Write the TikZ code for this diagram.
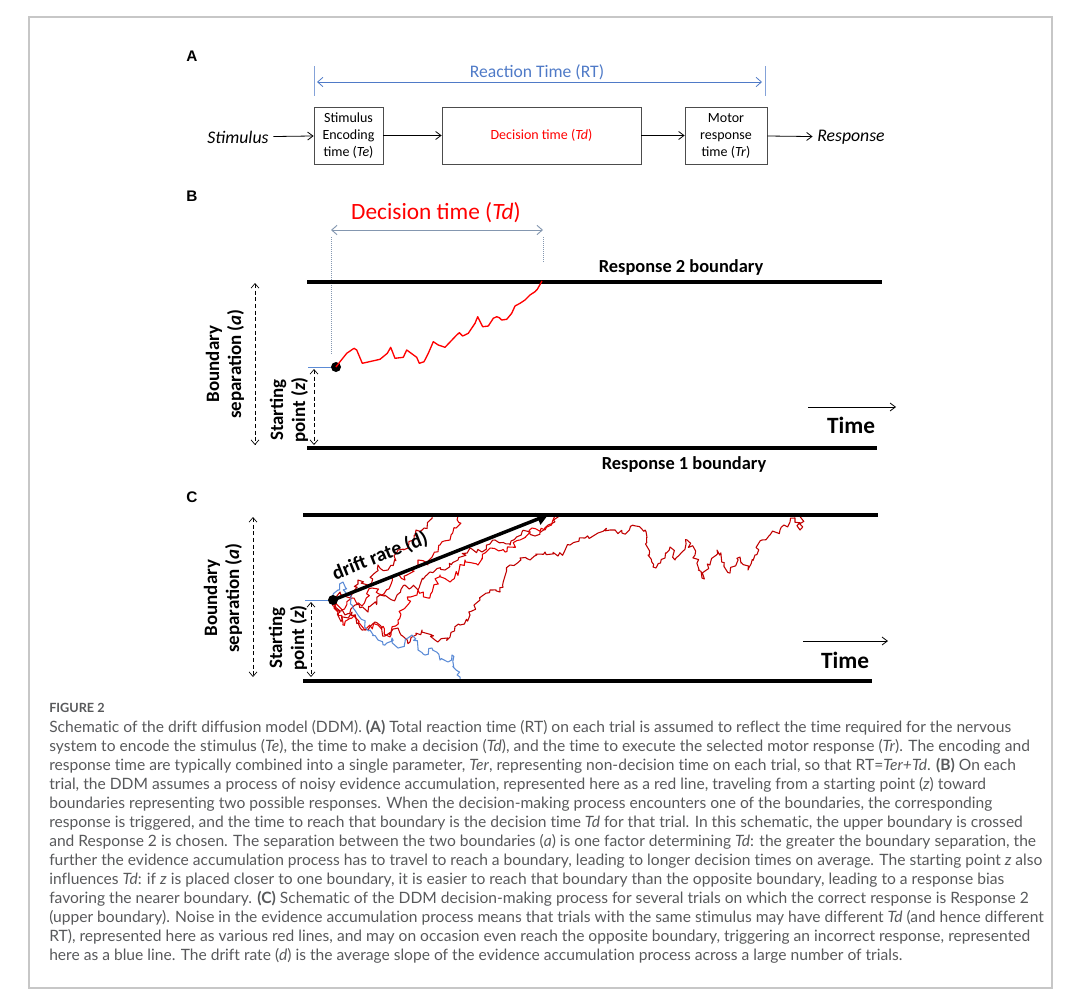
\documentclass[tikz,border=0pt]{standalone}
\usepackage{fontspec}
\setmainfont{Lato}[Ligatures=CommonOff]
\newfontfamily\calib{Carlito}
\newfontfamily\arialf{Liberation Sans}
\usetikzlibrary{arrows.meta,decorations.pathmorphing,positioning}
\definecolor{rtblue}{HTML}{4F7AC7}
\definecolor{tdgray}{HTML}{8497B0}
\definecolor{startblue}{HTML}{5B8BD6}
\definecolor{capgray}{HTML}{58595B}
\definecolor{walkred}{HTML}{C00000}
\tikzset{
  stagebox/.style={draw=black!70, line width=0.6pt, minimum height=42.75pt, align=center, inner sep=1pt,
    font=\calib\fontsize{10.5}{12.75}\selectfont},
  flow/.style={-{Straight Barb[length=4pt,width=6pt]}, line width=0.6pt},
  boundary/.style={line width=3pt},
  span/.style={{Straight Barb[length=3.5pt,width=6pt]}-{Straight Barb[length=3.5pt,width=6pt]},
    line width=0.5pt, densely dashed},
  sidelabel/.style={rotate=90, align=center, font=\calib\bfseries\fontsize{14.2}{16.5}\selectfont},
  bigbold/.style={font=\calib\bfseries\fontsize{13.8}{15}\selectfont},
  timelabel/.style={font=\calib\bfseries\fontsize{17.5}{19}\selectfont},
  panel/.style={font=\arialf\bfseries\fontsize{11.5}{12}\selectfont},
  startdot/.style={circle, fill, inner sep=0pt, minimum size=7.5pt},
  walk/.style={line width=0.8pt, line join=round, decorate,
    decoration={random steps, segment length=2.5pt, amplitude=2.2pt}},
}

\begin{document}
\begin{tikzpicture}[x=0.75pt,y=-0.75pt]
\useasboundingbox (0,0) rectangle (1080,1000);
\draw[black!22, line width=0.8pt] (29,17) rectangle (1052,988);

% panel A
\node[panel] (labA) at (192,56) {A};
\draw[rtblue!70, line width=0.5pt] (314,66) -- (314,96);
\draw[rtblue!70, line width=0.5pt] (765,66) -- (765,96);
\coordinate (rtL) at (317,82);
\coordinate (rtR) at (762,82);
\draw[rtblue, line width=0.6pt, {Straight Barb[length=4pt,width=7pt]}-{Straight Barb[length=4pt,width=7pt]}] (rtL) -- (rtR);
\node[text=rtblue, font=\calib\fontsize{13.2}{15}\selectfont] (rtlab) at (537,72) {Reaction Time (RT)};

\node[stagebox, minimum width=51.75pt] (enc) at (348.5,135.5) {Stimulus\\Encoding\\time (\textit{Te})};
\node[stagebox, minimum width=149.25pt, text=red] (dec) at (541.5,135.5) {Decision time (\textit{Td})};
\node[stagebox, minimum width=61.5pt] (mot) at (726,135.5) {Motor\\response\\time (\textit{Tr})};
\node[font=\calib\itshape\fontsize{13.3}{15}\selectfont] (stim) at (238,137) {Stimulus};
\node[font=\calib\itshape\fontsize{13.3}{15}\selectfont] (resp) at (851,137) {Response};
\draw[flow] (stim) -- (enc);
\draw[flow] (enc) -- (dec);
\draw[flow] (dec) -- (mot);
\draw[flow] (mot) -- (resp);

% panel B
\node[panel] (labB) at (192,196) {B};
\node[text=red, font=\calib\fontsize{17.5}{19}\selectfont] (tdlab) at (436,213) {Decision time (\textit{Td})};
\coordinate (tdL) at (331,230);
\coordinate (tdR) at (543,230);
\draw[tdgray, line width=0.7pt, {Straight Barb[length=4pt,width=7pt]}-{Straight Barb[length=4pt,width=7pt]}] (tdL) -- (tdR);
\draw[tdgray, densely dotted, line width=0.5pt] (331,237) -- (331,355);
\draw[tdgray, densely dotted, line width=0.5pt] (543,237) -- (543,262);
\draw[boundary] (307,282) -- (882,282);
\draw[boundary] (307,448) -- (877,448);
\node[bigbold] (r2lab) at (681,267) {Response 2 boundary};
\node[bigbold] (r1lab) at (684,464) {Response 1 boundary};
\draw[startblue, line width=0.6pt] (308,367) -- (333,367);
\node[startdot] (startB) at (336,367) {};
\draw[red, line width=1pt, line join=round] (startB.center) -- (340,361.7) -- (346.7,353.3) -- (354,348.3)
  -- (356.7,350) -- (362.3,363.3) -- (380,359.3) -- (387.3,353.3) -- (390.7,347.3) -- (395,358.3)
  -- (403.3,357.3) -- (406.7,350) -- (416.7,357.3) -- (419.3,363.3) -- (424,361.7) -- (428.3,353.3)
  -- (433.3,341.7) -- (438.3,345) -- (445,347.3) -- (456.7,335) -- (459.3,332.7) -- (462.7,336)
  -- (468.3,333.3) -- (475,323.3) -- (477.7,316.7) -- (482.7,326.7) -- (488.3,326) -- (493.3,318.3)
  -- (496.7,316.7) -- (499.3,317.7) -- (501.7,320) -- (506.7,319.3) -- (511.7,313.3) -- (515,306)
  -- (520,303.3) -- (525,300) -- (530,295) -- (535,291.7) -- (537.3,289.3) -- (542,281);
\coordinate (sepBt) at (255,283);
\coordinate (sepBb) at (255,445);
\draw[span] (sepBt) -- (sepBb);
\coordinate (zBt) at (314,369);
\coordinate (zBb) at (314,445);
\draw[span] (zBt) -- (zBb);
\node[sidelabel] (sepBlab) at (225,364) {Boundary\\separation (\textit{a})};
\node[sidelabel] (zBlab) at (289,410) {Starting\\point (\textit{z})};
\coordinate (tBl) at (808,407);
\coordinate (tBr) at (896,407);
\draw[flow] (tBl) -- (tBr);
\node[timelabel] (timeB) at (851,425) {Time};

% panel C
\node[panel] (labC) at (192,497) {C};
\draw[startblue, line width=0.6pt] (305,600) -- (330,600);
\pgfmathsetseed{4}
\begin{scope}
  \clip (303,515) rectangle (880,681);
  \draw[walk, walkred] (333,600) -- (340,592) -- (350,598) -- (358,580) -- (368,585) -- (378,565)
    -- (388,570) -- (398,550) -- (408,548) -- (416,530) -- (424,528) -- (433,512);
  \draw[walk, red!85!black] (333,600) -- (342,610) -- (352,598) -- (362,606) -- (372,588) -- (382,595)
    -- (395,575) -- (405,580) -- (418,560) -- (428,565) -- (440,545) -- (450,540) -- (456,528) -- (462,512);
  \draw[walk, walkred] (333,600) -- (345,615) -- (355,605) -- (368,612) -- (380,595) -- (392,600)
    -- (405,585) -- (418,590) -- (430,572) -- (445,570) -- (458,560) -- (470,548) -- (482,552)
    -- (495,540) -- (510,545) -- (522,532) -- (535,536) -- (548,525) -- (560,512);
  \draw[walk, red!90!black] (333,600) -- (343,625) -- (355,615) -- (365,630) -- (378,625) -- (390,637)
    -- (398,620) -- (408,600) -- (418,590) -- (428,598) -- (440,575) -- (452,580) -- (465,560)
    -- (478,565) -- (490,548) -- (505,552) -- (520,540) -- (532,528) -- (545,530) -- (553,520) -- (557,512);
  \draw[walk, walkred] (333,600) -- (342,620) -- (352,612) -- (362,630) -- (375,622) -- (385,636)
    -- (398,628) -- (410,642) -- (422,630) -- (435,640) -- (450,637) -- (460,625) -- (470,615)
    -- (480,600) -- (490,590) -- (500,592) -- (510,565) -- (520,558) -- (530,560) -- (545,552)
    -- (558,556) -- (570,545) -- (585,538) -- (598,533) -- (610,530) -- (622,533) -- (633,525)
    -- (645,530) -- (648,555) -- (656,568) -- (665,558) -- (670,547) -- (675,560) -- (682,552)
    -- (687,540) -- (695,555) -- (702,578) -- (710,565) -- (717,550) -- (724,565) -- (730,573)
    -- (740,557) -- (748,570) -- (755,555) -- (762,540) -- (770,535) -- (780,530) -- (790,522)
    -- (795,518) -- (800,530) -- (803,512);
  \draw[walk, startblue] (333,600) -- (338,590) -- (343,582) -- (348,595) -- (352,605) -- (358,615)
    -- (363,620) -- (370,630) -- (378,640) -- (385,645) -- (392,638) -- (398,648) -- (405,642)
    -- (412,635) -- (418,650) -- (425,655) -- (432,648) -- (440,660) -- (448,662) -- (452,655)
    -- (456,670) -- (460,684);
\end{scope}
\draw[boundary] (303,515) -- (878,515);
\draw[boundary] (303,681) -- (872,681);
\node[startdot] (startC) at (333,600) {};
\coordinate (driftEnd) at (548,515);
\draw[line width=2.6pt, -{Triangle[length=8pt,width=9pt]}] (startC.center) -- (driftEnd);
\node[rotate=21.6, font=\calib\bfseries\fontsize{15}{17}\selectfont] (driftlab) at (380,556) {drift rate (d)};
\coordinate (sepCt) at (253,517);
\coordinate (sepCb) at (253,677);
\draw[span] (sepCt) -- (sepCb);
\coordinate (zCt) at (311,602);
\coordinate (zCb) at (311,677);
\draw[span] (zCt) -- (zCb);
\node[sidelabel] (sepClab) at (223,598) {Boundary\\separation (\textit{a})};
\node[sidelabel] (zClab) at (288,638) {Starting\\point (\textit{z})};
\coordinate (tCl) at (803,641);
\coordinate (tCr) at (888,641);
\draw[flow] (tCl) -- (tCr);
\node[timelabel] (timeC) at (845,660) {Time};

% caption
\node[anchor=west, inner sep=0pt, text=capgray, font=\bfseries\fontsize{9.5}{10}\selectfont] (figlab) at (49,708) {FIGURE 2};
\node[anchor=north west, inner sep=0pt, align=left, text=capgray, font=\fontsize{11.7}{14.25}\selectfont] (cap) at (49,720) {%
Schematic of the drift diffusion model (DDM). \textbf{(A)} Total reaction time (RT) on each trial is assumed to reflect the time required for the nervous\\
system to encode the stimulus (\textit{Te}), the time to make a decision (\textit{Td}), and the time to execute the selected motor response (\textit{Tr}). The encoding and\\
response time are typically combined into a single parameter, \textit{Ter}, representing non-decision time on each trial, so that RT=\textit{Ter+Td}. \textbf{(B)} On each\\
trial, the DDM assumes a process of noisy evidence accumulation, represented here as a red line, traveling from a starting point (\textit{z}) toward\\
boundaries representing two possible responses. When the decision-making process encounters one of the boundaries, the corresponding\\
response is triggered, and the time to reach that boundary is the decision time \textit{Td} for that trial. In this schematic, the upper boundary is crossed\\
and Response 2 is chosen. The separation between the two boundaries (\textit{a}) is one factor determining \textit{Td}: the greater the boundary separation, the\\
further the evidence accumulation process has to travel to reach a boundary, leading to longer decision times on average. The starting point \textit{z} also\\
influences \textit{Td}: if \textit{z} is placed closer to one boundary, it is easier to reach that boundary than the opposite boundary, leading to a response bias\\
favoring the nearer boundary. \textbf{(C)} Schematic of the DDM decision-making process for several trials on which the correct response is Response 2\\
(upper boundary). Noise in the evidence accumulation process means that trials with the same stimulus may have different \textit{Td} (and hence different\\
RT), represented here as various red lines, and may on occasion even reach the opposite boundary, triggering an incorrect response, represented\\
here as a blue line. The drift rate (\textit{d}) is the average slope of the evidence accumulation process across a large number of trials.};
\end{tikzpicture}
\end{document}
